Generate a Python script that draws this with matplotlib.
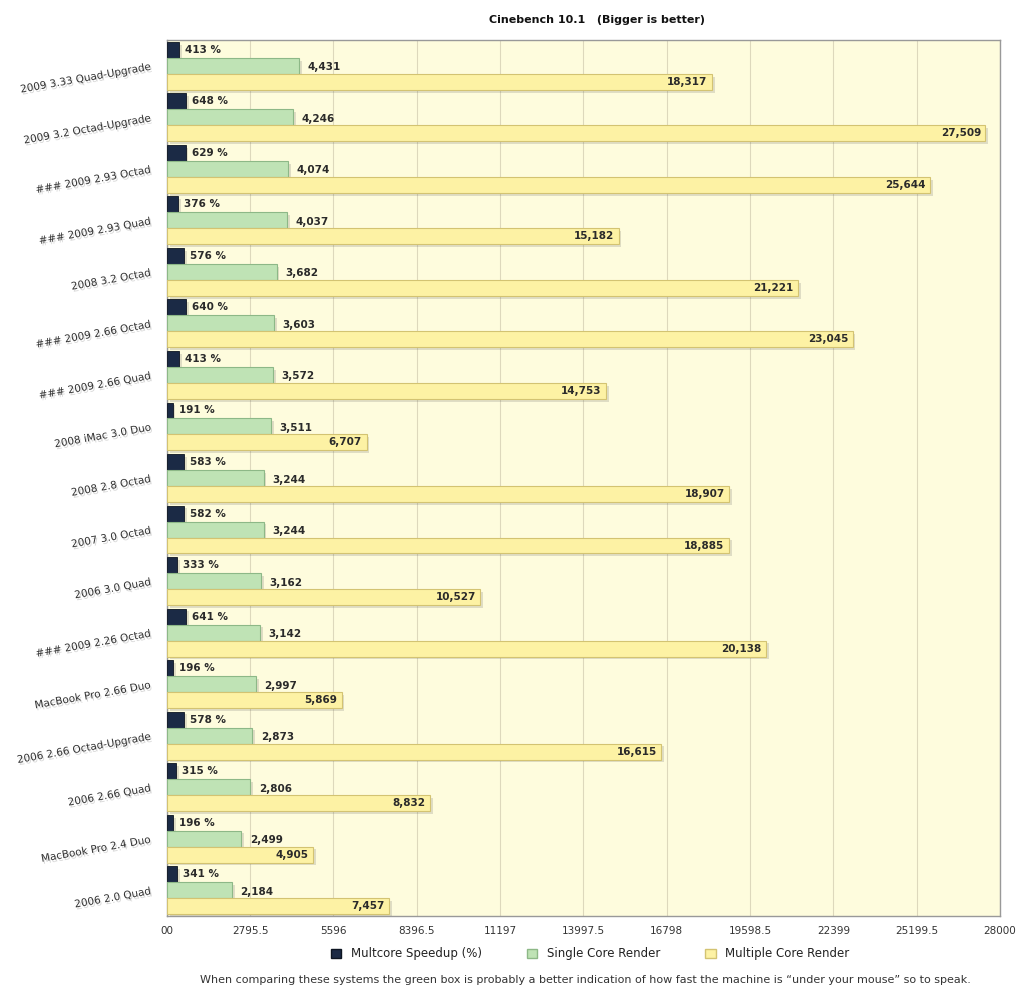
import matplotlib
matplotlib.use("Agg")
from matplotlib import pyplot as plt
from matplotlib import patheffects as pe
from matplotlib.patches import Patch
import numpy as np

systems = [
    "2009 3.33 Quad-Upgrade", "2009 3.2 Octad-Upgrade", "### 2009 2.93 Octad",
    "### 2009 2.93 Quad", "2008 3.2 Octad", "### 2009 2.66 Octad",
    "### 2009 2.66 Quad", "2008 iMac 3.0 Duo", "2008 2.8 Octad",
    "2007 3.0 Octad", "2006 3.0 Quad", "### 2009 2.26 Octad",
    "MacBook Pro 2.66 Duo", "2006 2.66 Octad-Upgrade", "2006 2.66 Quad",
    "MacBook Pro 2.4 Duo", "2006 2.0 Quad",
]
speedup = [413, 648, 629, 376, 576, 640, 413, 191, 583, 582, 333, 641, 196, 578, 315, 196, 341]
single = [4431, 4246, 4074, 4037, 3682, 3603, 3572, 3511, 3244, 3244, 3162, 3142, 2997, 2873, 2806, 2499, 2184]
multi = [18317, 27509, 25644, 15182, 21221, 23045, 14753, 6707, 18907, 18885, 10527, 20138, 5869, 16615, 8832, 4905, 7457]

xticks = [0, 2795.5, 5596, 8396.5, 11197, 13997.5, 16798, 19598.5, 22399, 25199.5, 28000]
xtick_labels = ["00", "2795.5", "5596", "8396.5", "11197", "13997.5", "16798",
                "19598.5", "22399", "25199.5", "28000"]

navy = "#1b2a45"
green = "#bfe3b5"
green_edge = "#8db887"
yellow = "#fdf2a4"
yellow_edge = "#d3c372"

fig = plt.figure(figsize=(10.24, 10.01), dpi=100)
ax = fig.add_axes([167 / 1024, 1 - 916 / 1001, 833 / 1024, 876 / 1001])
ax.set_facecolor("#fefcdd")

y = np.arange(len(systems))
h = 0.31
shadow = [pe.SimplePatchShadow(offset=(2, -2), alpha=0.18, shadow_rgbFace="#555"), pe.Normal()]

b1 = ax.barh(y - h, speedup, h, color=navy, edgecolor="#0d1522", linewidth=0.6, zorder=3)
b2 = ax.barh(y, single, h, color=green, edgecolor=green_edge, linewidth=0.8, zorder=3)
b3 = ax.barh(y + h, multi, h, color=yellow, edgecolor=yellow_edge, linewidth=0.8, zorder=3)
for bars in (b1, b2, b3):
    for p in bars:
        p.set_path_effects(shadow)

for i in range(len(systems)):
    ax.text(speedup[i] + 200, y[i] - h, f"{speedup[i]} %", va="center", ha="left",
            fontsize=7.5, fontweight="bold", color="#2a2a2a", zorder=4)
    ax.text(single[i] + 280, y[i] + 0.03, f"{single[i]:,}", va="center", ha="left",
            fontsize=7.5, fontweight="bold", color="#2a2a2a", zorder=4)
    ax.text(multi[i] - 150, y[i] + h, f"{multi[i]:,}", va="center", ha="right",
            fontsize=7.5, fontweight="bold", color="#2a2a2a", zorder=4)

ax.set_xlim(0, 28000)
ax.set_ylim(len(systems) - 0.5, -0.5)
ax.set_xticks(xticks)
ax.set_xticklabels(xtick_labels, fontsize=7.5, color="#333333")
ax.set_yticks(y)
ax.set_yticklabels(systems, fontsize=7.5, color="#333333", rotation=10, ha="right",
                   rotation_mode="anchor")
for t in ax.get_yticklabels():
    t.set_path_effects([pe.withSimplePatchShadow(offset=(1, -1.5), alpha=0.25,
                                                 shadow_rgbFace="#666")])
ax.tick_params(axis="both", length=0)
ax.tick_params(axis="x", pad=7)
ax.tick_params(axis="y", pad=12)
ax.grid(axis="x", color="#ddd8bc", linewidth=0.8, zorder=0)
ax.set_axisbelow(True)
for s in ax.spines.values():
    s.set_color("#999999")
    s.set_linewidth(1.0)

fig.text(597 / 1024, 1 - 20 / 1001, "Cinebench 10.1   (Bigger is better)", ha="center",
         va="center", fontsize=8, fontweight="bold", color="#111111")

handles = [Patch(facecolor=navy, edgecolor="#0d1522"),
           Patch(facecolor=green, edgecolor=green_edge),
           Patch(facecolor=yellow, edgecolor=yellow_edge)]
fig.legend(handles, ["Multcore Speedup (%)", "Single Core Render", "Multiple Core Render"],
           ncol=3, loc="center", bbox_to_anchor=(590 / 1024, 1 - 954 / 1001), frameon=False,
           fontsize=8.5, handlelength=0.9, handleheight=0.9, columnspacing=3.8,
           handletextpad=0.8, labelcolor="#222222")

fig.text(585 / 1024, 1 - 980 / 1001,
         "When comparing these systems the green box is probably a better indication of how "
         "fast the machine is \u201cunder your mouse\u201d so to speak.",
         ha="center", va="center", fontsize=8, color="#333333")

fig.savefig("out.png", dpi=100)
